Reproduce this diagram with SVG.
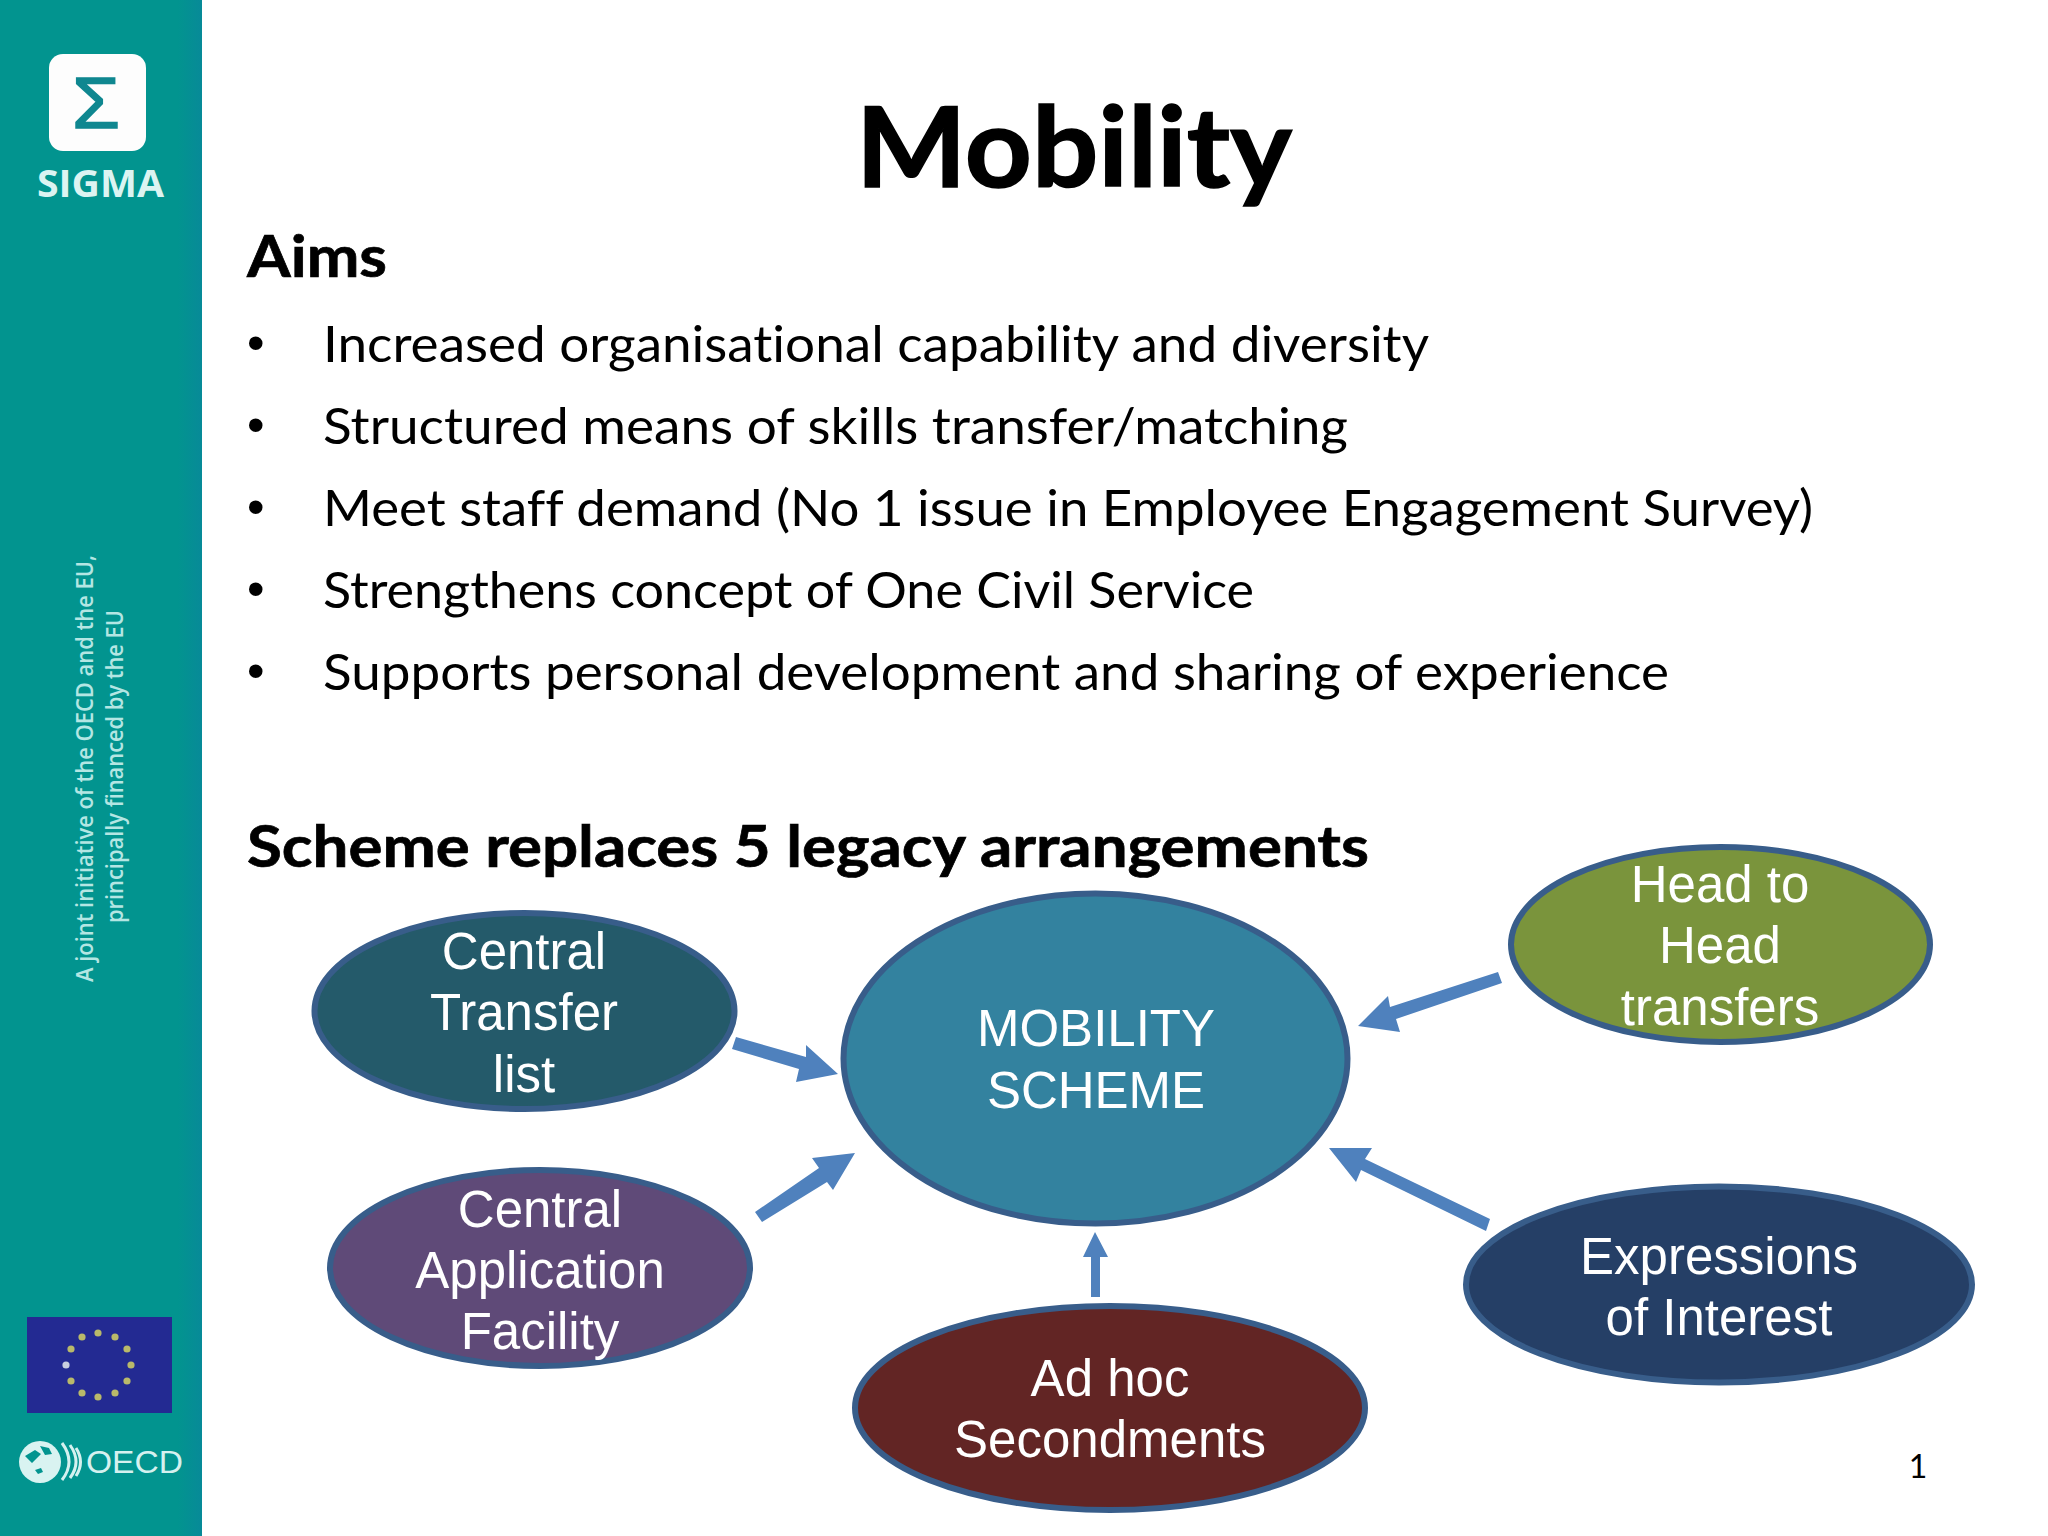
<svg xmlns="http://www.w3.org/2000/svg" width="2048" height="1536" viewBox="0 0 2048 1536">
<style>
.lat{font-family:"Lato","Carlito","Liberation Sans",sans-serif;font-variant-ligatures:none}
.b{font-size:50px;fill:#000}
.d{font-family:"Liberation Sans",sans-serif;font-size:50px;fill:#000}
.h{font-size:58px;font-weight:700;fill:#000;stroke:#000;stroke-width:.7}
.n{font-family:"Liberation Sans",Arial,sans-serif;font-size:51px;fill:#fff;text-anchor:middle}
.e{stroke:#385d8a;stroke-width:6}
.a{fill:#4f81bd}
.side{font-family:"Open Sans","Liberation Sans",sans-serif;fill:#b4e6e3;font-weight:600}
</style>
<defs>
<linearGradient id="sb" x1="0" x2="1" y1="0" y2="0"><stop offset="0" stop-color="#02948f"/><stop offset="0.88" stop-color="#02948f"/><stop offset="1" stop-color="#078a98"/></linearGradient>
</defs>
<rect width="2048" height="1536" fill="#fff"/>
<g id="sidebar">
<rect width="202" height="1536" fill="url(#sb)"/>
<rect x="49" y="54" width="97" height="97" rx="14" fill="#fdfdfd"/>
<text x="72" y="128" font-family="Liberation Sans,sans-serif" font-size="72" fill="#0f8790" stroke="#0f8790" stroke-width="1.5" textLength="48" lengthAdjust="spacingAndGlyphs">Σ</text>
<text x="37" y="197" class="side" font-size="37" font-weight="700" style="fill:#dcf4f2;font-weight:700" textLength="127" lengthAdjust="spacingAndGlyphs">SIGMA</text>
<text transform="translate(93,982) rotate(-90)" class="side" font-size="23" textLength="427" lengthAdjust="spacingAndGlyphs">A joint initiative of the OECD and the EU,</text>
<text transform="translate(123,923) rotate(-90)" class="side" font-size="23" textLength="313" lengthAdjust="spacingAndGlyphs">principally financed by the EU</text>
<rect x="27" y="1317" width="145" height="96" fill="#232a92"/>
<g fill="#b9b96a"><circle cx="98" cy="1333" r="3.6"/><circle cx="115" cy="1337" r="3.6"/><circle cx="127" cy="1349" r="3.6"/><circle cx="131" cy="1365" r="3.6"/><circle cx="127" cy="1381" r="3.6"/><circle cx="115" cy="1393" r="3.6"/><circle cx="98" cy="1397" r="3.6"/><circle cx="82" cy="1393" r="3.6"/><circle cx="71" cy="1381" r="3.6"/><circle cx="66" cy="1365" r="3.6" fill="#c9cfe0"/><circle cx="71" cy="1349" r="3.6"/><circle cx="82" cy="1337" r="3.6"/></g>
<circle cx="40" cy="1462" r="21" fill="#d9f3f1"/>
<path d="M25 1456l10-6 6 4-9 9zM40 1446l9 2 3 6-7 1zM35 1470l6-2 2 4-5 2z" fill="#02948f"/>
<path d="M62 1443q14 19 0 37M70 1445q12 17 0 33M76 1448q9 14 0 28" fill="none" stroke="#d5f1ef" stroke-width="3"/>
<text x="86" y="1473" font-family="Liberation Sans,sans-serif" font-size="32" fill="#d5f1ef" textLength="97" lengthAdjust="spacingAndGlyphs">OECD</text>
</g>
<text x="856" y="187" class="lat" font-size="112" font-weight="700" fill="#000" stroke="#000" stroke-width="1.5" textLength="436" lengthAdjust="spacingAndGlyphs">Mobility</text>
<text x="247" y="277" class="lat h" textLength="140" lengthAdjust="spacingAndGlyphs">Aims</text>
<g class="lat b">
<text class="d" x="247" y="360">•</text><text x="323" y="362" textLength="1106" lengthAdjust="spacingAndGlyphs">Increased organisational capability and diversity</text>
<text class="d" x="247" y="442">•</text><text x="323" y="444" textLength="1025" lengthAdjust="spacingAndGlyphs">Structured means of skills transfer/matching</text>
<text class="d" x="247" y="524">•</text><text x="323" y="526" textLength="1490" lengthAdjust="spacingAndGlyphs">Meet staff demand (No 1 issue in Employee Engagement Survey)</text>
<text class="d" x="247" y="606">•</text><text x="323" y="608" textLength="931" lengthAdjust="spacingAndGlyphs">Strengthens concept of One Civil Service</text>
<text class="d" x="247" y="688">•</text><text x="323" y="690" textLength="1346" lengthAdjust="spacingAndGlyphs">Supports personal development and sharing of experience</text>
</g>
<text x="247" y="867" class="lat h" textLength="1122" lengthAdjust="spacingAndGlyphs">Scheme replaces 5 legacy arrangements</text>
<g id="connectors" class="a">
<polygon points="736,1037 806,1057 806,1045 838,1074 796,1082 799,1069 732,1049"/>
<polygon points="755,1212 819,1168 812,1158 855,1153 833,1190 827,1182 762,1222"/>
<polygon points="1091,1297 1091,1257 1083,1257 1095,1232 1108,1257 1100,1257 1100,1297"/>
<polygon points="1490,1219 1365,1159 1372,1148 1329,1148 1356,1182 1361,1170 1486,1231"/>
<polygon points="1498,972 1390,1007 1388,996 1358,1026 1400,1032 1396,1019 1502,983"/>
</g>
<g id="mobility-scheme"><ellipse class="e" cx="1095.5" cy="1058.5" rx="252" ry="165" fill="#33829f"/><text class="n" x="1096" y="1046">MOBILITY</text><text class="n" x="1096" y="1108">SCHEME</text></g>
<g id="central-transfer"><ellipse class="e" cx="524.5" cy="1011" rx="210" ry="98" fill="#245a6a"/><text class="n" x="524" y="969">Central</text><text class="n" x="524" y="1030">Transfer</text><text class="n" x="524" y="1092">list</text></g>
<g id="central-application"><ellipse class="e" cx="540" cy="1268" rx="210" ry="98" fill="#5f4a78"/><text class="n" x="540" y="1227">Central</text><text class="n" x="540" y="1288">Application</text><text class="n" x="540" y="1349">Facility</text></g>
<g id="ad-hoc"><ellipse class="e" cx="1110" cy="1408" rx="255" ry="102" fill="#622524"/><text class="n" x="1110" y="1396">Ad hoc</text><text class="n" x="1110" y="1457">Secondments</text></g>
<g id="expressions"><ellipse class="e" cx="1719" cy="1284.5" rx="253" ry="98" fill="#253f66"/><text class="n" x="1719" y="1274">Expressions</text><text class="n" x="1719" y="1335">of Interest</text></g>
<g id="head-to-head"><ellipse class="e" cx="1720.5" cy="944.5" rx="209.5" ry="97.5" fill="#7a943c"/><text class="n" x="1720" y="902">Head to</text><text class="n" x="1720" y="963">Head</text><text class="n" x="1720" y="1025">transfers</text></g>
<text x="1918" y="1478" class="lat" font-size="32" fill="#000" text-anchor="middle">1</text>
</svg>
